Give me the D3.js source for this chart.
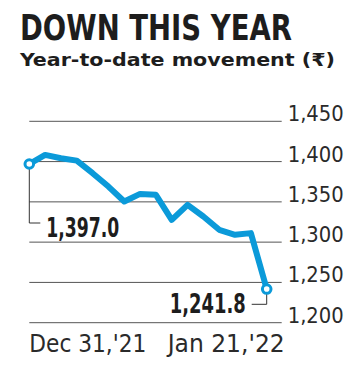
<!DOCTYPE html>
<html>
<head>
<meta charset="utf-8">
<script src="https://cdn.jsdelivr.net/npm/d3@7"></script>
<style>
  body { margin: 0; background: #fff; }
  svg { display: block; }
  .tick-label { font-family: "DejaVu Sans Condensed", "DejaVu Sans", sans-serif; font-stretch: semi-condensed; fill: #2a2a2a; }
  .note { font-family: "Liberation Sans Narrow", "DejaVu Sans Condensed", sans-serif; font-weight: bold; fill: #1d1d1d; }
</style>
</head>
<body>
<script>
// trading days, Dec 31 '21 -> Jan 21 '22
const dates = ["2021-12-31", "2022-01-03", "2022-01-04", "2022-01-05", "2022-01-06", "2022-01-07",
  "2022-01-10", "2022-01-11", "2022-01-12", "2022-01-13", "2022-01-14", "2022-01-17",
  "2022-01-18", "2022-01-19", "2022-01-20", "2022-01-21"];
const prices = [1397.0, 1408.3, 1404.2, 1401.2, 1385.6, 1369.0, 1350.4, 1359.9, 1358.7,
  1327.7, 1346.3, 1331.8, 1315.3, 1309.1, 1311.2, 1241.8];
const yTicks = [1200, 1250, 1300, 1350, 1400, 1450];
const xTickLabels = ["Dec 31,'21", "Jan 21,'22"];

const title = "DOWN THIS YEAR";
const subtitle = "Year-to-date movement (\u20B9)";

const W = 363, H = 369;
const margin = {top: 121.3, right: 96.3, bottom: 46.3, left: 29.3};

const data = dates.map((d, i) => ({date: d, value: prices[i]}));

const svg = d3.select('body').append('svg')
  .attr('width', W)
  .attr('height', H);

const x = d3.scalePoint()
  .domain(dates)
  .range([margin.left, W - margin.right]);

const y = d3.scaleLinear()
  .domain([1200, 1450])
  .range([H - margin.bottom, margin.top]);

const blue = "#0b9ad9";

// title + subtitle
svg.append('text')
  .attr('class', 'note')
  .attr('x', 20).attr('y', 40)
  .attr('font-size', 35)
  .attr('textLength', 272).attr('lengthAdjust', 'spacingAndGlyphs')
  .text(title);

svg.append('text')
  .attr('class', 'note')
  .attr('x', 20).attr('y', 66)
  .attr('font-size', 18)
  .style('font-family', '"DejaVu Sans Condensed", "DejaVu Sans", sans-serif')
  .style('font-stretch', 'semi-condensed')
  .attr('textLength', 315).attr('lengthAdjust', 'spacingAndGlyphs')
  .text(subtitle);

// gridlines
const gridEnd = x.range()[1] + 15;
svg.selectAll('line.grid')
  .data(yTicks)
  .enter()
  .append('line')
  .attr('class', 'grid')
  .attr('x1', margin.left).attr('x2', gridEnd)
  .attr('y1', d => y(d)).attr('y2', d => y(d))
  .attr('stroke', '#555').attr('stroke-width', 1);

// y labels, baseline sitting on the gridline
svg.selectAll('text.ylab')
  .data(yTicks)
  .enter()
  .append('text')
  .attr('class', 'tick-label ylab')
  .attr('x', gridEnd + 6)
  .attr('y', d => y(d))
  .attr('font-size', 22)
  .attr('textLength', 56).attr('lengthAdjust', 'spacingAndGlyphs')
  .text(d => d3.format(",")(d));

// x labels at the ends
svg.append('text')
  .attr('class', 'tick-label')
  .attr('x', x(dates[0])).attr('y', H - 17)
  .attr('font-size', 25)
  .attr('textLength', 117).attr('lengthAdjust', 'spacingAndGlyphs')
  .text(xTickLabels[0]);
svg.append('text')
  .attr('class', 'tick-label')
  .attr('x', x(dates[dates.length - 1]) + 18 - 117).attr('y', H - 17)
  .attr('font-size', 25)
  .attr('textLength', 117).attr('lengthAdjust', 'spacingAndGlyphs')
  .text(xTickLabels[1]);

// leader lines for first and last value
const first = data[0], last = data[data.length - 1];
svg.append('path')
  .attr('fill', 'none').attr('stroke', '#333').attr('stroke-width', 1)
  .attr('d', `M${x(first.date)},${y(first.value)} V${223} H${x(first.date) + 11}`);
svg.append('path')
  .attr('fill', 'none').attr('stroke', '#333').attr('stroke-width', 1)
  .attr('d', `M${x(last.date)},${y(last.value)} V${304.3} H${x(last.date) - 15}`);

// the line
const line = d3.line()
  .x(d => x(d.date))
  .y(d => y(d.value))
  .curve(d3.curveLinear);

svg.append('path')
  .datum(data)
  .attr('fill', 'none')
  .attr('stroke', blue)
  .attr('stroke-width', 6)
  .attr('stroke-linejoin', 'round')
  .attr('d', line);

svg.selectAll('circle.end')
  .data([first, last])
  .enter()
  .append('circle')
  .attr('class', 'end')
  .attr('cx', d => x(d.date))
  .attr('cy', d => y(d.value))
  .attr('r', 4.3)
  .attr('fill', '#fff')
  .attr('stroke', blue)
  .attr('stroke-width', 3);

// value notes
const fmt = d3.format(",.1f");
svg.append('text')
  .attr('class', 'note')
  .attr('x', x(first.date) + 17).attr('y', 237)
  .attr('font-size', 26)
  .attr('textLength', 73).attr('lengthAdjust', 'spacingAndGlyphs')
  .text(fmt(first.value));
svg.append('text')
  .attr('class', 'note')
  .attr('x', x(last.date) - 21).attr('y', 313.3)
  .attr('text-anchor', 'end')
  .attr('font-size', 26)
  .attr('textLength', 76).attr('lengthAdjust', 'spacingAndGlyphs')
  .text(fmt(last.value));
</script>
</body>
</html>
